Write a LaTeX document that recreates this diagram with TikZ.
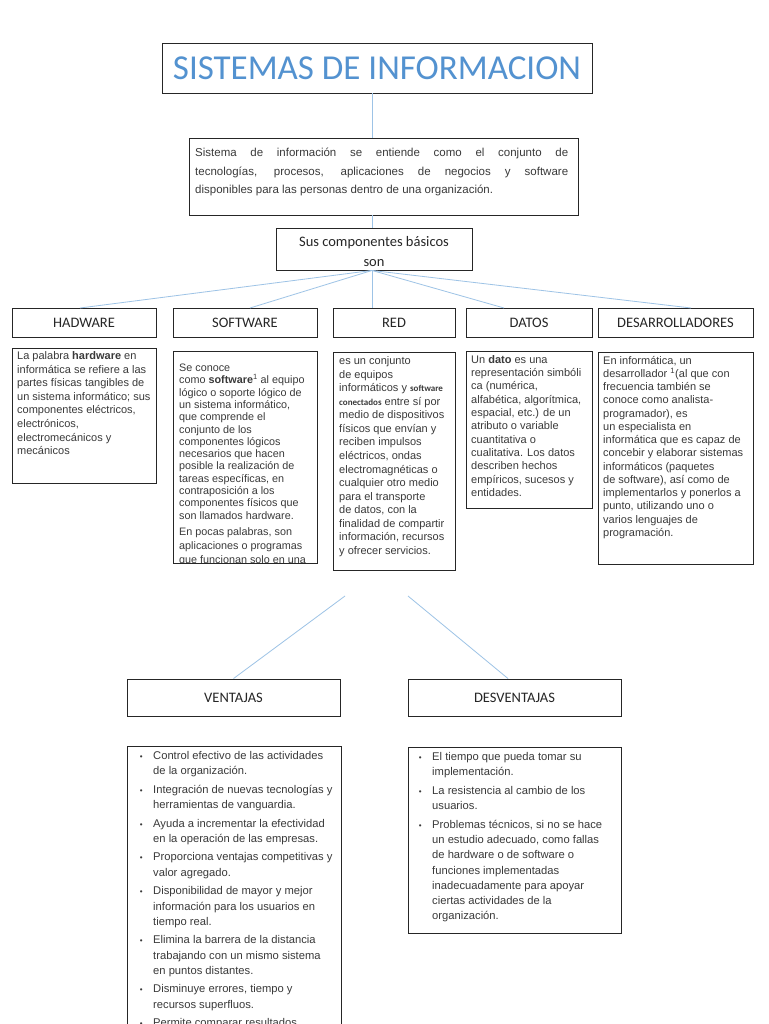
\documentclass[tikz,border=0pt]{standalone}
\usepackage{fontspec}
\setmainfont{Liberation Sans}
\newfontfamily\carl{Carlito}
\definecolor{txt}{HTML}{3A3A3A}
\definecolor{conn}{HTML}{9DC3E6}
\definecolor{ttl}{HTML}{5392D0}
\newcommand\tb[2]{\parbox[t]{#1}{\raggedright #2}}
\newcommand\bul{\leavevmode\llap{{\fontsize{8}{8}\selectfont\textbullet}\hspace{10.5pt}}}
\newcommand\redsw[1]{{\carl\bfseries\fontsize{9}{9}\selectfont #1}}
\begin{document}
\begin{tikzpicture}[x=1pt,y=-1pt,
  box/.style={draw=black!85, line width=0.9pt, inner sep=0pt, fill=white},
  lab/.style={font=\carl\fontsize{14.5}{14.5}\selectfont, text=black!85},
  small/.style={anchor=base west, inner sep=0pt, text=txt, font=\fontsize{11}{13.6}\selectfont},
  listtx/.style={anchor=base west, inner sep=0pt, text=txt, font=\fontsize{11.2}{15.3}\selectfont},
  conn/.style={draw=conn, line width=0.8pt}]
\useasboundingbox (0,0) rectangle (768,1024);
\fill[white] (0,0) rectangle (768,1024);

% title
\node[box, minimum width=430pt, minimum height=50pt, font=\carl\fontsize{35}{35}\selectfont, text=ttl] (title) at (377,68) {SISTEMAS DE INFORMACION};

% definition
\node[box, minimum width=389pt, minimum height=77pt] (def) at (383.5,176.5) {};
\node[anchor=base west, inner sep=0pt, text=txt, font=\fontsize{11.5}{18.5}\selectfont] (deftx) at (195,157)
 {\tb{380pt}{\makebox[373pt][s]{Sistema de información se entiende como el conjunto de}\\
 \makebox[373pt][s]{tecnologías, procesos, aplicaciones de negocios y software}\\
 disponibles para las personas dentro de una organización.}};

% components
\node[box, minimum width=196pt, minimum height=42pt] (comp) at (374,249) {};
\node[lab, align=center, font=\carl\fontsize{14.5}{20}\selectfont] (comptx) at (374,252) {Sus componentes básicos\\son};

\coordinate (spine) at (372,0);

% categories
\node[box, lab, minimum width=144pt, minimum height=29pt] (hw) at (84,322.5) {HADWARE};
\node[box, lab, minimum width=144pt, minimum height=29pt] (sw) at (245,322.5) {SOFTWARE};
\node[box, lab, minimum width=122pt, minimum height=29pt] (red) at (394,322.5) {RED};
\node[box, lab, minimum width=126pt, minimum height=29pt] (dat) at (529,322.5) {DATOS};
\node[box, lab, minimum width=155pt, minimum height=29pt] (des) at (675.5,322.5) {DESARROLLADORES};

\coordinate (e1) at (80,308);
\coordinate (e2) at (250,308);
\coordinate (e4) at (504,308);
\coordinate (e5) at (691,308);

\draw[conn] (title.south -| spine) -- (def.north -| spine);
\draw[conn] (def.south -| spine) -- (comp.north -| spine);
\draw[conn] (comp.south -| spine) -- (e1);
\draw[conn] (comp.south -| spine) -- (e2);
\draw[conn] (comp.south -| spine) -- (red.north -| spine);
\draw[conn] (comp.south -| spine) -- (e4);
\draw[conn] (comp.south -| spine) -- (e5);

% description boxes
\node[box, minimum width=144pt, minimum height=135pt] (hwb) at (84,415.5) {};
\node[small] (hwtx) at (17,359.5) {\tb{200pt}{La palabra \textbf{hardware} en\\
informática se refiere a las\\
partes físicas tangibles de\\
un sistema informático; sus\\
componentes eléctricos,\\
electrónicos,\\
electromecánicos y\\
mecánicos}};

\node[box, minimum width=144pt, minimum height=212pt] (swb) at (245,457) {};
\begin{scope}
\clip (173,351) rectangle (317,562.5);
\node[small, font=\fontsize{10.8}{12.3}\selectfont] (swtx) at (179,371.5) {\tb{200pt}{Se conoce\\
como \textbf{software}\textsuperscript{1} al equipo\\
lógico o soporte lógico de\\
un sistema informático,\\
que comprende el\\
conjunto de los\\
componentes lógicos\\
necesarios que hacen\\
posible la realización de\\
tareas específicas, en\\
contraposición a los\\
componentes físicos que\\
son llamados hardware.\\[4.2pt]
En pocas palabras, son\\[1.7pt]
aplicaciones o programas\\[1.7pt]
que funcionan solo en una}};
\end{scope}

\node[box, minimum width=122pt, minimum height=218pt] (redb) at (394,461) {};
\node[small, font=\fontsize{11}{13.57}\selectfont] (redtx) at (339,364.5) {\tb{200pt}{es un conjunto\\
de equipos\\
informáticos y \redsw{software}\\
\redsw{conectados} entre sí por\\
medio de dispositivos\\
físicos que envían y\\
reciben impulsos\\
eléctricos, ondas\\
electromagnéticas o\\
cualquier otro medio\\
para el transporte\\
de datos, con la\\
finalidad de compartir\\
información, recursos\\
y ofrecer servicios.}};

\node[box, minimum width=126pt, minimum height=157pt] (datb) at (529,429.5) {};
\node[small, font=\fontsize{11}{13.35}\selectfont] (dattx) at (471,363) {\tb{200pt}{Un \textbf{dato} es una\\
representación simbóli\\
ca (numérica,\\
alfabética, algorítmica,\\
espacial, etc.) de un\\
atributo o variable\\
cuantitativa o\\
cualitativa. Los datos\\
describen hechos\\
empíricos, sucesos y\\
entidades.}};

\node[box, minimum width=155pt, minimum height=212pt] (desb) at (675.5,458) {};
\node[small, font=\fontsize{11}{13.27}\selectfont] (destx) at (603,364) {\tb{200pt}{En informática, un\\
desarrollador \textsuperscript{1}(al que con\\
frecuencia también se\\
conoce como analista-\\
programador), es\\
un especialista en\\
informática que es capaz de\\
concebir y elaborar sistemas\\
informáticos (paquetes\\
de software), así como de\\
implementarlos y ponerlos a\\
punto, utilizando uno o\\
varios lenguajes de\\
programación.}};

% ventajas / desventajas
\coordinate (v0) at (345,596);
\coordinate (d0) at (408,596);
\node[box, lab, minimum width=213pt, minimum height=37pt] (vent) at (233.5,697.5) {VENTAJAS};
\node[box, lab, minimum width=213pt, minimum height=37pt] (desv) at (514.5,697.5) {DESVENTAJAS};
\draw[conn] (v0) -- (vent.north);
\draw[conn] (d0) -- ([xshift=-6.5pt]desv.north);

\node[box, minimum width=214pt, minimum height=300pt] (ventl) at (234,896) {};
\node[listtx] (venttx) at (153,759.5) {\tb{200pt}{\bul Control efectivo de las actividades\\
de la organización.\\[3.2pt]
\bul Integración de nuevas tecnologías y\\
herramientas de vanguardia.\\[3.2pt]
\bul Ayuda a incrementar la efectividad\\
en la operación de las empresas.\\[3.2pt]
\bul Proporciona ventajas competitivas y\\
valor agregado.\\[3.2pt]
\bul Disponibilidad de mayor y mejor\\
información para los usuarios en\\
tiempo real.\\[3.2pt]
\bul Elimina la barrera de la distancia\\
trabajando con un mismo sistema\\
en puntos distantes.\\[3.2pt]
\bul Disminuye errores, tiempo y\\
recursos superfluos.\\[3.2pt]
\bul Permite comparar resultados}};

\node[box, minimum width=213pt, minimum height=186pt] (desvl) at (514.5,840) {};
\node[listtx] (desvtx) at (432,760.5) {\tb{200pt}{\bul El tiempo que pueda tomar su\\
implementación.\\[3.2pt]
\bul La resistencia al cambio de los\\
usuarios.\\[3.2pt]
\bul Problemas técnicos, si no se hace\\
un estudio adecuado, como fallas\\
de hardware o de software o\\
funciones implementadas\\
inadecuadamente para apoyar\\
ciertas actividades de la\\
organización.}};
\end{tikzpicture}
\end{document}
